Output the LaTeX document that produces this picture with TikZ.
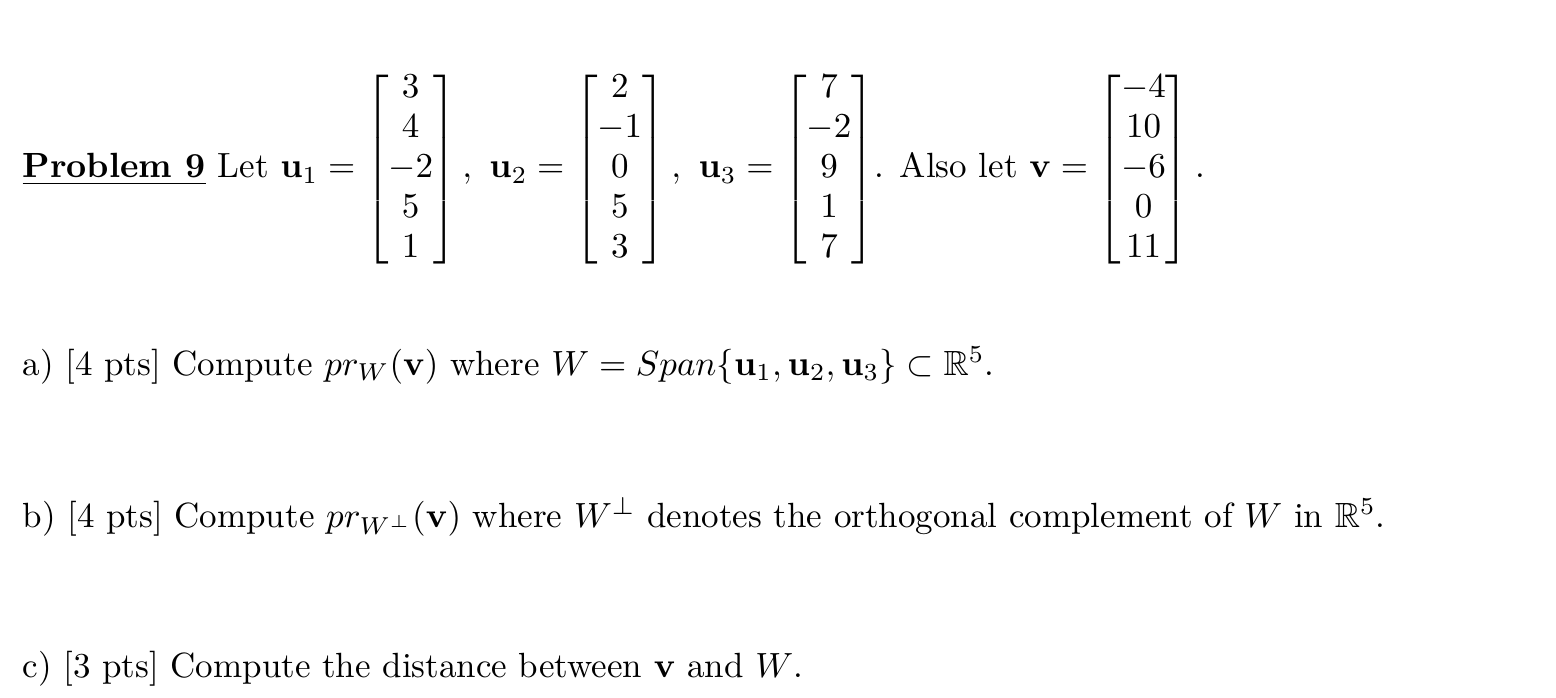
\documentclass[tikz,border=0pt]{standalone}
\usepackage{amsmath,amssymb}
\begin{document}
\begin{tikzpicture}[x=1pt,y=-1pt,
  txt/.style={anchor=base west,inner sep=0pt,scale=3.5,transform shape,font=\normalsize}]
\useasboundingbox (0,0) rectangle (1556,698);
\node[txt] (p) at (22,178) {\renewcommand{\arraystretch}{0.95}\setlength{\arraycolsep}{3pt}\underline{\textbf{Problem 9}} Let $\mathbf{u}_1=\begin{bmatrix}3\\4\\-2\\5\\1\end{bmatrix},\ \mathbf{u}_2=\begin{bmatrix}2\\-1\\0\\5\\3\end{bmatrix},\ \mathbf{u}_3=\begin{bmatrix}7\\-2\\9\\1\\7\end{bmatrix}$. Also let $\mathbf{v}=\begin{bmatrix}-4\\10\\-6\\0\\11\end{bmatrix}.$};
\node[txt] (a) at (22,375) {a) [4 pts] Compute $pr_W(\mathbf{v})$ where $W=Span\{\mathbf{u}_1,\mathbf{u}_2,\mathbf{u}_3\}\subset\mathbb{R}^5$.};
\node[txt] (b) at (22,527) {b) [4 pts] Compute $pr_{W^\perp}(\mathbf{v})$ where $W^\perp$ denotes the orthogonal complement of $W$ in $\mathbb{R}^5$.};
\node[txt] (c) at (22,677) {c) [3 pts] Compute the distance between $\mathbf{v}$ and $W$.};
\end{tikzpicture}
\end{document}
